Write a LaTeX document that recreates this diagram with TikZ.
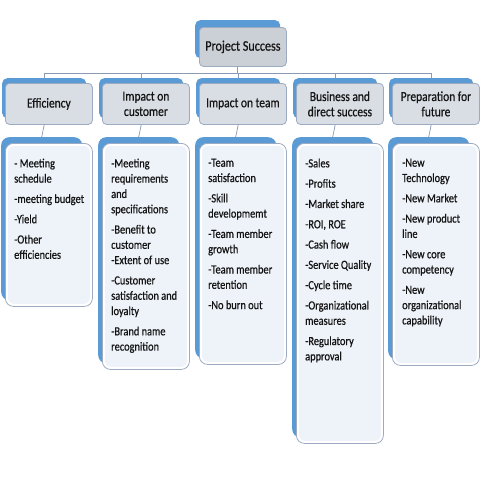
\documentclass[tikz,border=0pt]{standalone}
\usepackage{fontspec}
\setmainfont{Carlito}[FakeStretch=0.83,FakeBold=0.6]
\definecolor{shblue}{HTML}{5B9BD5}
\definecolor{graybox}{HTML}{D9DDE4}
\definecolor{titlegray}{HTML}{CBCFD6}
\definecolor{edge}{HTML}{9DABC2}
\definecolor{pale}{HTML}{EEF2F9}
\definecolor{ink}{HTML}{141414}
\definecolor{conn}{HTML}{8A9AB2}
\begin{document}
\begin{tikzpicture}[x=1pt,y=-1pt,
  shadowbox/.style={fill=shblue,draw=none,rounded corners=5pt,inner sep=0pt,anchor=north west},
  headbox/.style={fill=graybox,draw=edge,line width=0.8pt,rounded corners=4pt,inner sep=0pt,anchor=north west,minimum width=87pt,minimum height=41pt},
  listbox/.style={fill=white,draw=edge,line width=0.8pt,rounded corners=8pt,inner sep=0pt,anchor=north west,minimum width=87pt},
  headtext/.style={font=\fontsize{13.8}{15.3}\selectfont,text=ink,align=center},
  itemtext/.style={font=\fontsize{12.5}{15.3}\selectfont,text=ink,align=left,anchor=north west,inner sep=0pt},
  link/.style={draw=conn,line width=0.7pt}]
\useasboundingbox (0,0) rectangle (480,480);
\fill[white] (0,0) rectangle (480,480);

% title
\node[shadowbox,minimum width=85pt,minimum height=38pt] (tS) at (195,20) {};
\node[headbox,fill=titlegray,minimum width=87pt,minimum height=39pt] (t) at (199,27) {};
\node[headtext,font=\fontsize{14.6}{17}\selectfont] (tT) at (t.center) {Project Success};

% level 2 and 3
\foreach \i/\L/\B in {1/5/306,2/102/369,3/199/364,4/296/443,5/392/365}{
  \node[shadowbox,minimum width=84pt,minimum height=40pt] (s\i) at (\L-3,78) {};
  \node[headbox] (h\i) at (\L,83) {};
  \pgfmathsetmacro{\H}{\B-143}
  \node[shadowbox,rounded corners=8pt,minimum width=81pt,minimum height=\H pt] (r\i) at (\L-4,137) {};
  \node[listbox,minimum height=\H pt] (b\i) at (\L,143) {};
  \fill[pale,rounded corners=6pt] ([shift={(3,3)}]b\i.north west) rectangle ([shift={(-3,-3)}]b\i.south east);
}

\node[headtext] (h1t) at (h1.center) {Efficiency};
\node[headtext] (h2t) at (h2.center) {Impact on\\customer};
\node[headtext] (h3t) at (h3.center) {Impact on team};
\node[headtext] (h4t) at (h4.center) {Business and\\direct success};
\node[headtext] (h5t) at (h5.center) {Preparation for\\future};

\node[itemtext] (l1) at (14,158.5) {- Meeting\\schedule\\[5pt]-meeting budget\\[5pt]-Yield\\[5pt]-Other\\efficiencies};
\node[itemtext] (l2) at (111,158.5) {-Meeting\\requirements\\and\\specifications\\[5pt]-Benefit to\\customer\\-Extent of use\\[5pt]-Customer\\satisfaction and\\loyalty\\[5pt]-Brand name\\recognition};
\node[itemtext] (l3) at (208,158.5) {-Team\\satisfaction\\[5pt]-Skill\\developmemt\\[5pt]-Team member\\growth\\[5pt]-Team member\\retention\\[5pt]-No burn out};
\node[itemtext] (l4) at (305,158.5) {-Sales\\[5pt]-Profits\\[5pt]-Market share\\[5pt]-ROI, ROE\\[5pt]-Cash flow\\[5pt]-Service Quality\\[5pt]-Cycle time\\[5pt]-Organizational\\measures\\[5pt]-Regulatory\\approval};
\node[itemtext] (l5) at (402,158.5) {-New\\Technology\\[5pt]-New Market\\[5pt]-New product\\line\\[5pt]-New core\\competency\\[5pt]-New\\organizational\\capability};

% connectors
\coordinate (bus) at (0,73);
\draw[link] (tS.south |- t.south) -- (tS.south |- bus);
\draw[link] (s1.north |- bus) -- (s5.north |- bus);
\foreach \i in {1,...,5}{
  \draw[link] (s\i.north |- bus) -- (s\i.north);
  \draw[link] (s\i.south |- h\i.south) -- (r\i.north);
}
\end{tikzpicture}
\end{document}
